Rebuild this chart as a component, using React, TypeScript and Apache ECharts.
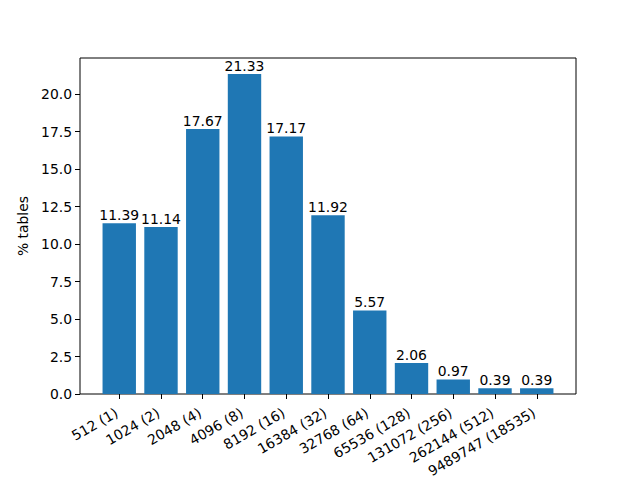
import React, { useEffect, useRef } from 'react';
import * as echarts from 'echarts';

// 类别与数值
const categories = [
  '512 (1)', '1024 (2)', '2048 (4)', '4096 (8)', '8192 (16)', '16384 (32)',
  '32768 (64)', '65536 (128)', '131072 (256)', '262144 (512)', '9489747 (18535)',
];
const percentTables = [11.39, 11.14, 17.67, 21.33, 17.17, 11.92, 5.57, 2.06, 0.97, 0.39, 0.39];
const yTicks = [0, 2.5, 5, 7.5, 10, 12.5, 15, 17.5, 20];

const FONT = 'DejaVu Sans';
const FS = 13.9;

const App: React.FC = () => {
  const chartRef = useRef<HTMLDivElement>(null);

  useEffect(() => {
    if (!chartRef.current) return;
    const chart = echarts.init(chartRef.current, undefined, { renderer: 'svg' });

    // 轴框: 80..576, 数据区按 matplotlib 的 5% 边距留白
    const axLeft = 80;
    const axWidth = 496;
    const unit = axWidth / (categories.length - 1 + 0.8 + 1.08);
    const dataLeft = axLeft + unit * (0.94 - 0.5);
    const dataWidth = unit * categories.length;
    const yMax = 22.4;

    chart.setOption({
      animation: false,
      textStyle: { fontFamily: FONT },
      grid: [
        { left: axLeft, width: axWidth, top: 58, height: 336, show: true, borderColor: '#000', borderWidth: 1, backgroundColor: 'transparent' },
        { left: dataLeft, width: dataWidth, top: 58, height: 336 },
      ],
      xAxis: [
        { type: 'value', gridIndex: 0, show: false, min: 0, max: 1 },
        {
          type: 'category',
          gridIndex: 1,
          data: categories,
          axisLine: { show: false },
          axisTick: { show: true, alignWithLabel: true, length: 5, lineStyle: { color: '#000' } },
          axisLabel: {
            rotate: 30,
            margin: 16,
            padding: [0, 3, 0, 0],
            interval: 0,
            color: '#000',
            fontSize: FS,
            fontFamily: FONT,
          },
        },
      ],
      yAxis: [
        {
          type: 'value',
          gridIndex: 0,
          min: 0,
          max: yMax,
          name: '% tables',
          nameLocation: 'middle',
          nameGap: 46,
          nameTextStyle: { color: '#000', fontSize: FS, fontFamily: FONT },
          axisLine: { show: false },
          splitLine: { show: false },
          axisTick: { show: true, length: 5, customValues: yTicks, lineStyle: { color: '#000' } },
          axisLabel: {
            customValues: yTicks,
            margin: 8,
            color: '#000',
            fontSize: FS,
            fontFamily: FONT,
            formatter: (v: number) => v.toFixed(1),
          },
        },
        { type: 'value', gridIndex: 1, min: 0, max: yMax, show: false, splitLine: { show: false } },
      ],
      series: [
        {
          type: 'bar',
          xAxisIndex: 1,
          yAxisIndex: 1,
          data: percentTables,
          barCategoryGap: '20%',
          itemStyle: { color: '#1f77b4' },
          label: {
            show: true,
            position: 'top',
            distance: 1,
            color: '#000',
            fontSize: FS,
            fontFamily: FONT,
            formatter: (p: any) => Number(p.value).toFixed(2),
          },
        },
      ],
    });

    return () => {
      chart.dispose();
    };
  }, []);

  return (
    <div
      ref={chartRef}
      style={{ position: 'fixed', left: 0, top: 0, width: 640, height: 480, background: '#fff' }}
    />
  );
};

export default App;
